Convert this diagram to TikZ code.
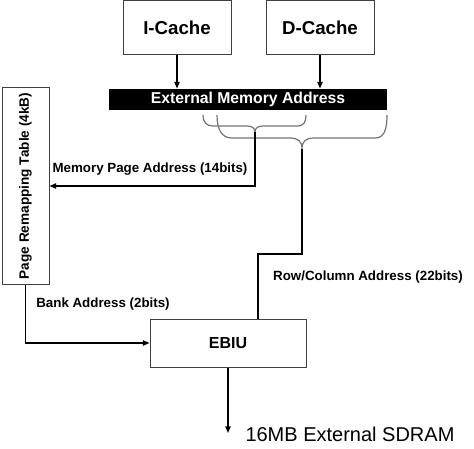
\documentclass[tikz,border=0pt]{standalone}
\usepackage{fontspec}
\setmainfont{Liberation Sans}
\usetikzlibrary{arrows.meta}

\tikzset{every picture/.style={line width=0.75pt}}
\tikzset{
  blockbox/.style={draw=black!75, line width=0.75pt, fill=white, inner sep=0pt},
  wire/.style={line width=1pt},
  arr/.style={wire, -{Triangle[length=5pt,width=4pt]}},
  lbl/.style={font=\bfseries\fontsize{10}{12}\selectfont},
  brace/.style={draw=black!55, line width=0.9pt}
}

\begin{document}
\begin{tikzpicture}[x=0.75pt,y=0.75pt,yscale=-1,xscale=1]
\useasboundingbox (0,0) rectangle (474,449);

%Shape: Rectangle [I-Cache]
\node[blockbox, minimum width=81pt, minimum height=40.5pt, font=\bfseries\fontsize{14}{16}\selectfont] (icache) at (177,28) {I-Cache};
%Shape: Rectangle [D-Cache]
\node[blockbox, minimum width=81pt, minimum height=40.5pt, font=\bfseries\fontsize{14}{16}\selectfont] (dcache) at (320,28) {D-Cache};
%Shape: Rectangle [address bar]
\node[fill=black, text=white, inner sep=0pt, minimum width=208.5pt, minimum height=15.75pt, font=\bfseries\fontsize{11.8}{13}\selectfont] (bar) at (248,99.5) {External Memory Address};
%Shape: Rectangle [remap table]
\node[blockbox, rotate=90, minimum width=147pt, minimum height=35.25pt, font=\bfseries\fontsize{10.2}{12}\selectfont] (page) at (25.5,186) {Page Remapping Table (4kB)};
%Shape: Rectangle [EBIU]
\node[blockbox, minimum width=117pt, minimum height=36pt, font=\bfseries\fontsize{12}{14}\selectfont] (ebiu) at (228,343) {EBIU};

%Straight Lines
\draw[arr] (icache.south) -- (icache.south |- bar.north);
%Straight Lines
\draw[arr] (dcache.south) -- (dcache.south |- bar.north);

%Shape: Brace [page bits]
\coordinate (tip1) at (255,132);
\draw[brace] (203,115) .. controls (203,122) and (206,126) .. (213,126) -- (247,126) .. controls (252,126) and (255,128) .. (tip1) .. controls (255,128) and (258,126) .. (263,126) -- (297,126) .. controls (304,126) and (306,122) .. (306,115);
%Shape: Brace [row/column bits]
\coordinate (tip2) at (302,149);
\draw[brace] (217,115) .. controls (217,130) and (222,138) .. (232,138) -- (290,138) .. controls (298,138) and (302,141) .. (tip2) .. controls (302,141) and (306,138) .. (314,138) -- (375,138) .. controls (384,138) and (387,130) .. (387,115);

%Straight Lines
\draw[arr] (tip1) |- (page.south);
%Straight Lines
\coordinate (rc) at (258,254);
\draw[wire] (tip2) |- (rc) -- (rc |- ebiu.north);
%Straight Lines
\draw[arr] (page.west) |- (ebiu.west);
%Straight Lines
\coordinate (out) at (ebiu.south |- 0,433);
\draw[arr] (ebiu.south) -- (out);

% Text Node
\node[lbl] (pglbl) at (150,169) {Memory Page Address (14bits)};
% Text Node
\node[lbl] (rclbl) at (368,277) {Row/Column Address (22bits)};
% Text Node
\node[lbl] (bklbl) at (103,304) {Bank Address (2bits)};
% Text Node
\node[anchor=west, inner sep=0pt, font=\fontsize{15}{17}\selectfont] (sdram) at (245,434) {16MB External SDRAM};

\end{tikzpicture}
\end{document}
